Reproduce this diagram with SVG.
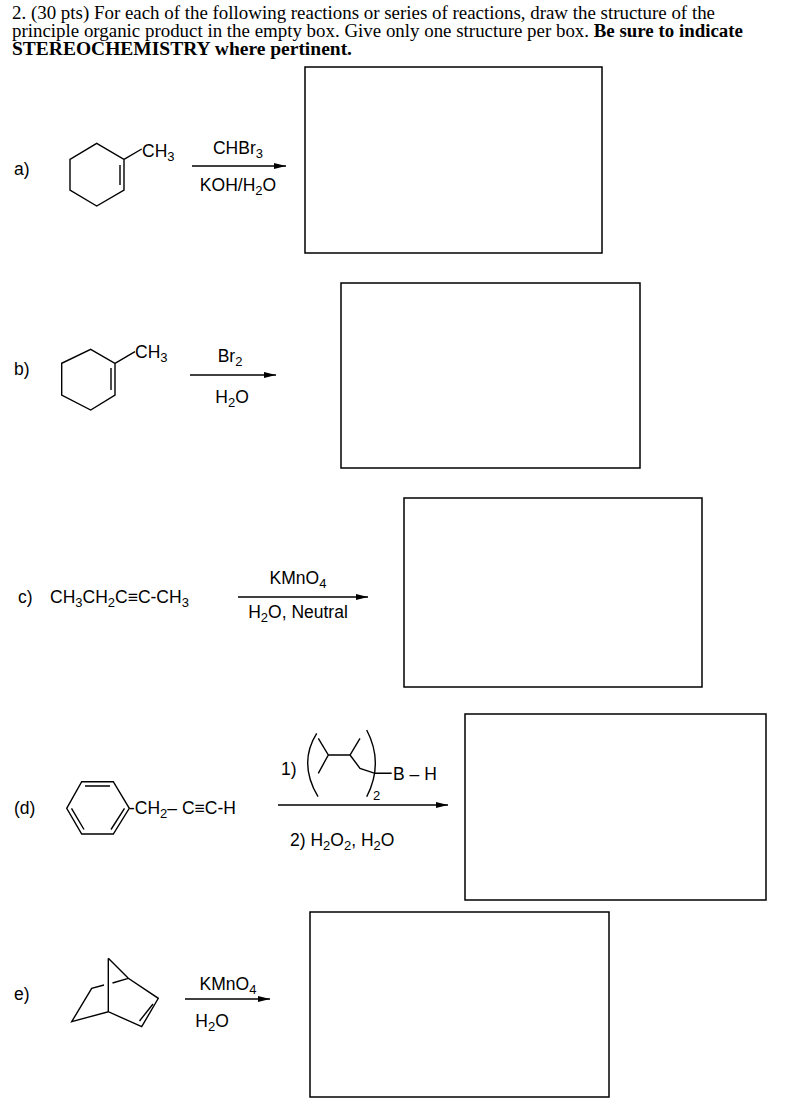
<svg xmlns="http://www.w3.org/2000/svg" width="808" height="1102" viewBox="0 0 808 1102">
<defs><marker id="ah" markerWidth="12" markerHeight="6" refX="12" refY="3" orient="auto" markerUnits="userSpaceOnUse"><path d="M0,0 L12,3 L0,6 Z" fill="#000"/></marker></defs>
<style>
.h{font-family:"Liberation Serif",serif;font-size:18px}
.t{font-family:"Liberation Sans",Arial,sans-serif;font-size:17.5px}
.s{font-size:13px}
.ln{fill:none;stroke:#000;stroke-width:1.4}
.box{fill:none;stroke:#000;stroke-width:1.5}
.ar{stroke:#000;stroke-width:1.4;marker-end:url(#ah)}
</style>
<rect width="808" height="1102" fill="#fff"/>
<g id="header">
<text class="h" x="12" y="19" textLength="703" lengthAdjust="spacingAndGlyphs">2. (30 pts)  For each of the following reactions or series of reactions, draw the structure of the</text>
<text class="h" x="12" y="37" textLength="731" lengthAdjust="spacingAndGlyphs">principle organic product in the empty box. Give only one structure per box. <tspan font-weight="bold">Be sure to indicate</tspan></text>
<text class="h" x="12" y="55" font-weight="bold" textLength="340" lengthAdjust="spacingAndGlyphs">STEREOCHEMISTRY where pertinent.</text>
</g>
<g id="boxes">
<rect class="box" x="305" y="67" width="297" height="186"/>
<rect class="box" x="341" y="283" width="299" height="185"/>
<rect class="box" x="404" y="498" width="298" height="189"/>
<rect class="box" x="465" y="714" width="301" height="186"/>
<rect class="box" x="310" y="912" width="299" height="185"/>
</g>
<g id="a">
<text class="t" x="14" y="175">a)</text>
<path class="ln" d="M96.7,143.3 L124,159.3 L124,190 L96.7,206 L70,190 L70,159.3 Z M120,165 L120,185 M124,159.3 L141.7,149"/>
<text class="t" x="142" y="157">CH<tspan class="s" dy="4">3</tspan></text>
</g>
<g id="b">
<text class="t" x="14" y="375">b)</text>
<path class="ln" d="M90.7,349.3 L115,363.3 L115,395 L90.7,410 L61.7,395 L61.7,363.3 Z M111,368 L111,390 M115,363.3 L135,351.7"/>
<text class="t" x="135" y="358">CH<tspan class="s" dy="4">3</tspan></text>
</g>
<g id="c">
<text class="t" x="18" y="603">c)</text>
<text class="t" x="50" y="603">CH<tspan class="s" dy="4">3</tspan><tspan dy="-4">CH</tspan><tspan class="s" dy="4">2</tspan><tspan dy="-4">C≡C-CH</tspan><tspan class="s" dy="4">3</tspan></text>
</g>
<g id="d">
<text class="t" x="14" y="814">(d)</text>
<path class="ln" d="M66.7,808.3 L81.7,781.7 L113.3,781.7 L129.3,808.3 L113.3,834 L81.7,834 Z M85,786 L110,786 M71.5,808.3 L84,829.5 M124.5,808.3 L111,829.5"/>
<text class="t" x="129" y="814">-CH<tspan class="s" dy="4">2</tspan><tspan dy="-4">– C≡C-H</tspan></text>
</g>
<g id="e">
<text class="t" x="14" y="1000">e)</text>
<path class="ln" d="M108.3,958.3 L108.3,1011.7 M108.3,958.3 L128.3,978.3 L158.3,998.3 L141.7,1026.7 L108.3,1011.7 L71.7,1021.7 L91.7,988.3 L104,985 M112.5,983 L128.3,978.3 M153,1004 L139.5,1021"/>
</g>
<g id="connectors">
<line class="ar" x1="192" y1="166" x2="286" y2="166"/>
<line class="ar" x1="190" y1="375" x2="276" y2="375"/>
<line class="ar" x1="238" y1="597" x2="368" y2="597"/>
<line class="ar" x1="278" y1="805" x2="448" y2="805"/>
<line class="ar" x1="185" y1="999" x2="270" y2="999"/>
</g>
<g id="reagents">
<text class="t" x="238" y="154" text-anchor="middle">CHBr<tspan class="s" dy="4">3</tspan></text>
<text class="t" x="238" y="191" text-anchor="middle">KOH/H<tspan class="s" dy="4">2</tspan><tspan dy="-4">O</tspan></text>
<text class="t" x="230" y="362" text-anchor="middle">Br<tspan class="s" dy="4">2</tspan></text>
<text class="t" x="232" y="403" text-anchor="middle">H<tspan class="s" dy="4">2</tspan><tspan dy="-4">O</tspan></text>
<text class="t" x="298" y="584" text-anchor="middle">KMnO<tspan class="s" dy="4">4</tspan></text>
<text class="t" x="298" y="618" text-anchor="middle">H<tspan class="s" dy="4">2</tspan><tspan dy="-4">O, Neutral</tspan></text>
<text class="t" x="281" y="775">1)</text>
<path class="ln" d="M316.7,733.3 Q298,763 318,796.7 M366.7,730 Q384,763 366.7,796.7 M318.3,738.3 L328.3,755 L318.3,773.3 M328.3,755 L350,755 L360,738.3 M350,755 L360,768.3 L375,773.3 L391.7,773.3"/>
<text class="t" x="393" y="780">B – H</text>
<text font-family="Liberation Sans,sans-serif" x="373" y="800" font-size="13">2</text>
<text class="t" x="290" y="846">2) H<tspan class="s" dy="4">2</tspan><tspan dy="-4">O</tspan><tspan class="s" dy="4">2</tspan><tspan dy="-4">, H</tspan><tspan class="s" dy="4">2</tspan><tspan dy="-4">O</tspan></text>
<text class="t" x="228" y="990" text-anchor="middle">KMnO<tspan class="s" dy="4">4</tspan></text>
<text class="t" x="212" y="1027" text-anchor="middle">H<tspan class="s" dy="4">2</tspan><tspan dy="-4">O</tspan></text>
</g>
</svg>
